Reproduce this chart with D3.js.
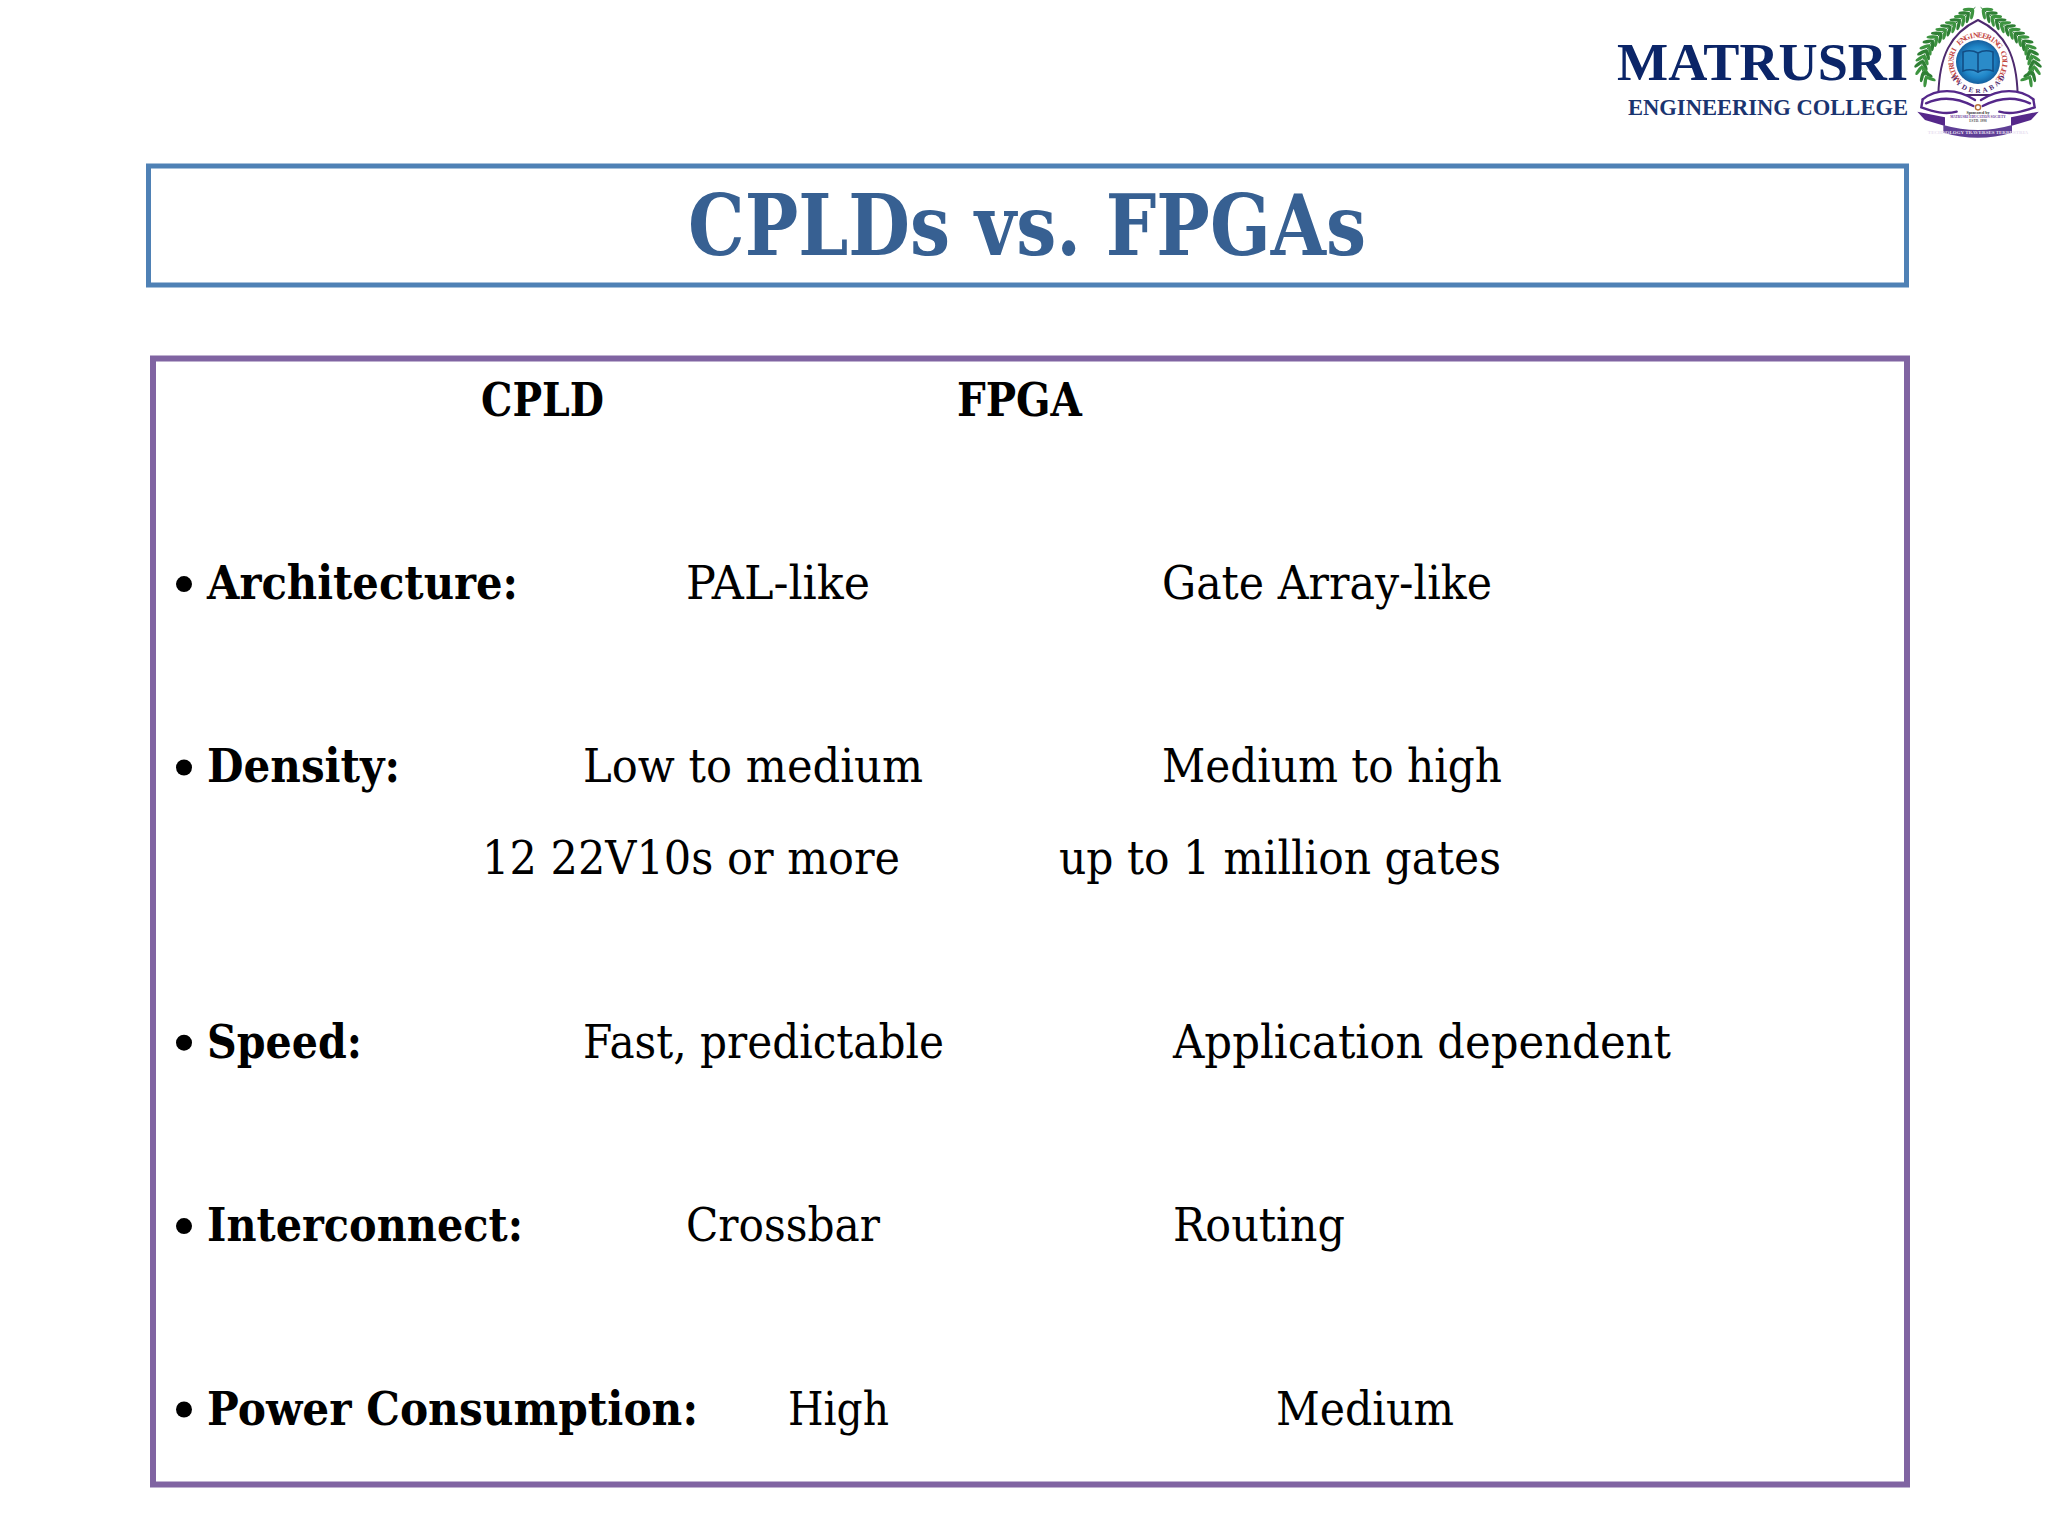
<!DOCTYPE html>
<html>
<head>
<meta charset="utf-8">
<script src="https://cdn.jsdelivr.net/npm/d3@7"></script>
<style>
  html, body { margin: 0; padding: 0; background: #fff; }
  text { font-family: "DejaVu Serif", serif; }
  .logo text { font-family: "Liberation Serif", serif; }
</style>
</head>
<body>
<script>
const title = "CPLDs vs. FPGAs";
const columnHeads = ["CPLD", "FPGA"];
const rowLabels = ["Architecture:", "Density:", "", "Speed:", "Interconnect:", "Power Consumption:"];
const cpldValues = ["PAL-like", "Low to medium", "12 22V10s or more", "Fast, predictable", "Crossbar", "High"];
const fpgaValues = ["Gate Array-like", "Medium to high", "up to 1 million gates", "Application dependent", "Routing", "Medium"];
// line number of each row in the slide's text block (the head is line 0)
const rowLines = [2, 4, 5, 7, 9, 11];
// where the tabs left each cell, and how wide it came out in the slide
const cpldX = [686, 583, 482, 583, 686, 788];
const fpgaX = [1162, 1162, 1059, 1173, 1173, 1276];
const cpldW = [184, 340, 418, 361, 194, 101];
const fpgaW = [330, 340, 442, 498, 172, 178];
const labelW = [311, 193, 0, 155, 316, 491];

const width = 2048, height = 1536;
const svg = d3.select("body").append("svg")
  .attr("width", width).attr("height", height)
  .attr("viewBox", [0, 0, width, height])
  .style("display", "block");
const defs = svg.append("defs");

const y = d3.scaleLinear().domain([0, 11]).range([415.6, 1424.5]);

function put(parent, str, x, base, size, bold, w, fill) {
  const t = parent.append("text").attr("x", x).attr("y", base)
    .attr("font-size", size).attr("font-weight", bold ? 700 : 400)
    .attr("fill", fill || "#000").text(str);
  if (w) t.attr("textLength", w).attr("lengthAdjust", "spacingAndGlyphs");
  return t;
}

// title box
svg.append("rect").attr("x", 148.5).attr("y", 166).attr("width", 1758).attr("height", 119)
  .attr("fill", "#fff").attr("stroke", "#4f81b5").attr("stroke-width", 5);
put(svg, title, 688, 255, 84, true, 678, "#376092");

// body box
svg.append("rect").attr("x", 153).attr("y", 358.5).attr("width", 1754).attr("height", 1126)
  .attr("fill", "#fff").attr("stroke", "#8064a2").attr("stroke-width", 6);

put(svg, columnHeads[0], 481, y(0), 46, true, 123);
put(svg, columnHeads[1], 957, y(0), 46, true, 125);

rowLabels.forEach((label, i) => {
  const base = y(rowLines[i]);
  if (label) {
    svg.append("circle").attr("cx", 184).attr("cy", base - 15).attr("r", 8).attr("fill", "#000");
    put(svg, label, 207, base, 46, true, labelW[i]);
  }
  put(svg, cpldValues[i], cpldX[i], base, 46, false, cpldW[i]);
  put(svg, fpgaValues[i], fpgaX[i], base, 46, false, fpgaW[i]);
});

// college logo
const logo = svg.append("g").attr("class", "logo");
put(logo, "MATRUSRI", 1617, 80, 53, true, 291, "#0b2568");
put(logo, "ENGINEERING COLLEGE", 1628, 115, 24, true, 280, "#1a3470");

const cx = 1978, cy = 62;
// the crest was measured on a 3x crop, centre at (204, 186)
const cr = (px, py) => [cx + (px - 204) / 3, cy + (py - 186) / 3];
const pt = (px, py) => cr(px, py).join(",");

// laurel branch, mirrored for the two sides
const branchPts = [[196, 22], [150, 60], [100, 95], [62, 130], [42, 170], [36, 205], [52, 238]];
const branchLine = d3.line().curve(d3.curveCatmullRom);
[-1, 1].forEach(side => {
  const pts = branchPts.map(([a, b]) => cr(side < 0 ? a : 408 - a, b));
  const stem = logo.append("path").attr("d", branchLine(pts))
    .attr("fill", "none").attr("stroke", "#2b7a35").attr("stroke-width", 1);
  const node = stem.node(), len = node.getTotalLength();
  d3.range(0, 17).forEach(i => {
    const s = len * (i + 0.5) / 17;
    const p = node.getPointAtLength(s), q = node.getPointAtLength(s + 1);
    const ang = Math.atan2(q.y - p.y, q.x - p.x) * 180 / Math.PI;
    [-38, 38].forEach(off => {
      logo.append("ellipse").attr("cx", 5).attr("cy", 0).attr("rx", 5.5).attr("ry", 1.7)
        .attr("fill", i % 2 ? "#2f7f35" : "#3d9440")
        .attr("transform", `translate(${p.x},${p.y}) rotate(${ang + off})`);
    });
  });
});

// arch of the shield
logo.append("path")
  .attr("d", `M${pt(85, 285)} C${pt(88, 170)} ${pt(120, 100)} ${pt(204, 60)} C${pt(288, 100)} ${pt(320, 170)} ${pt(323, 285)} Z`)
  .attr("fill", "#fff").attr("stroke", "#4d2a6e").attr("stroke-width", 2);

// round book badge
const grad = defs.append("radialGradient").attr("id", "badge");
grad.append("stop").attr("offset", "0%").attr("stop-color", "#5fb6e6");
grad.append("stop").attr("offset", "70%").attr("stop-color", "#1f86c8");
grad.append("stop").attr("offset", "100%").attr("stop-color", "#155f9e");
logo.append("circle").attr("cx", cx).attr("cy", cy).attr("r", 22).attr("fill", "url(#badge)");
logo.append("path")
  .attr("d", `M${cx - 15},${cy - 10} q8,-3 15,1 q7,-4 15,-1 v19 q-8,-3 -15,1 q-7,-4 -15,-1 Z M${cx},${cy - 9} v20`)
  .attr("fill", "#2a8bc9").attr("stroke", "#124d84").attr("stroke-width", 1.6);

// lettering round the badge, one rotated glyph at a time
function ringText(str, r, midDeg, stepDeg, size, fill, inward) {
  const chars = Array.from(str);
  chars.forEach((ch, i) => {
    const a = midDeg + (i - (chars.length - 1) / 2) * stepDeg * (inward ? -1 : 1);
    const rad = (a - 90) * Math.PI / 180;
    logo.append("text").attr("font-size", size).attr("font-weight", 700).attr("fill", fill)
      .attr("text-anchor", "middle")
      .attr("transform", `translate(${cx + r * Math.cos(rad)},${cy + r * Math.sin(rad)}) rotate(${inward ? a + 180 : a})`)
      .text(ch);
  });
}
ringText("MATRUSRI ENGINEERING COLLEGE", 24.5, 0, 9.6, 7.6, "#c2453f", false);
ringText("HYDERABAD", 31, 180, 14, 7, "#4d2a6e", true);

// folded white ribbons under the arch
const band = (d, w) => logo.append("path").attr("d", d).attr("fill", "none")
  .attr("stroke", "#55288a").attr("stroke-width", w).attr("stroke-linecap", "round");
[-1, 1].forEach(side => {
  const m = (a, b) => pt(side < 0 ? a : 408 - a, b);
  logo.append("path")
    .attr("d", `M${m(195, 300)} C${m(140, 265)} ${m(80, 265)} ${m(38, 298)} L${m(34, 322)} C${m(90, 345)} ${m(130, 350)} ${m(190, 325)} Z`)
    .attr("fill", "#fff");
  band(`M${m(195, 300)} C${m(140, 265)} ${m(80, 265)} ${m(38, 298)}`, 2.4);
  band(`M${m(190, 318)} C${m(140, 292)} ${m(90, 290)} ${m(48, 310)}`, 2.4);
  band(`M${m(38, 298)} L${m(34, 322)} C${m(70, 335)} ${m(105, 345)} ${m(140, 335)}`, 2.4);
  logo.append("path")
    .attr("d", `M${m(22, 335)} L${m(105, 352)} L${m(105, 378)} L${m(45, 360)} Z`)
    .attr("fill", "#55288a");
});

// centre device and scroll
logo.append("circle").attr("cx", cr(204, 322)[0]).attr("cy", cr(204, 322)[1]).attr("r", 2.6)
  .attr("fill", "none").attr("stroke", "#b5703a").attr("stroke-width", 1.4);
put(logo, "Sponsored by", cr(204, 342)[0], cr(204, 342)[1], 4, true, 0, "#333").attr("text-anchor", "middle");
put(logo, "MATRUSRI EDUCATION SOCIETY", cr(204, 353)[0], cr(204, 353)[1], 3.4, true, 0, "#6b3a9a").attr("text-anchor", "middle");
put(logo, "ESTD. 1998", cr(204, 365)[0], cr(204, 365)[1], 3.4, true, 0, "#555").attr("text-anchor", "middle");
logo.append("path")
  .attr("d", `M${pt(100, 375)} Q${pt(204, 405)} ${pt(306, 375)} L${pt(306, 398)} Q${pt(204, 428)} ${pt(100, 398)} Z`)
  .attr("fill", "#5f3f96");
put(logo, "TECHNOLOGY TRAVERSES TERRESTRIA", cr(204, 402)[0], cr(204, 402)[1], 5, true, 0, "#e8e0f0").attr("text-anchor", "middle");
</script>
</body>
</html>
